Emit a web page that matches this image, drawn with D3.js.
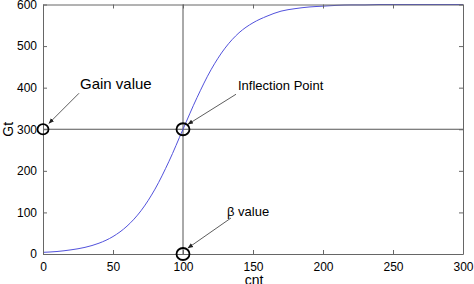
<!DOCTYPE html>
<html>
<head>
<meta charset="utf-8">
<script src="https://cdn.jsdelivr.net/npm/d3@7"></script>
<style>
  body { margin: 0; background: #fff; }
  svg { display: block; font-family: "Liberation Sans", Arial, sans-serif; }
</style>
</head>
<body>
<svg id="chart"></svg>
<script>
const width = 474;
const height = 284;

// values
const cnt = [0, 10, 20, 30, 40, 50, 60, 70, 80, 90, 100, 110, 120, 130, 140, 150,
             160, 170, 180, 190, 200, 210, 220, 230, 240, 250, 260, 270, 280, 290, 300];
const gt = [4, 6, 10, 16, 26, 42, 67, 104, 156, 223, 300, 376, 443, 495, 532, 556,
            572, 584, 590, 594, 596, 598, 599, 599, 600, 600, 600, 600, 600, 600, 600];
const xTicks = [0, 50, 100, 150, 200, 250, 300];
const yTicks = [0, 100, 200, 300, 400, 500, 600];
const guideX = 100;
const guideY = 300;
const markers = [[0, 300], [100, 300], [100, 0]];
const notes = ["Gain value", "Inflection Point", "β value"];

const margin = {top: 4.5, right: 11, bottom: 30, left: 43};
const svg = d3.select("#chart").attr("width", width).attr("height", height);

const x = d3.scaleLinear().domain([0, 300]).range([margin.left, width - margin.right]);
const y = d3.scaleLinear().domain([0, 600]).range([height - margin.bottom, margin.top]);

const axisColor = "#666";

// guide lines through the inflection point
svg.append("line")
    .attr("x1", x(guideX)).attr("x2", x(guideX))
    .attr("y1", y(0)).attr("y2", y(600))
    .attr("stroke", "#555").attr("stroke-width", 1);
svg.append("line")
    .attr("x1", x(0)).attr("x2", x(300))
    .attr("y1", y(guideY)).attr("y2", y(guideY))
    .attr("stroke", "#555").attr("stroke-width", 1);

// the curve
const line = d3.line()
    .x((d, i) => x(cnt[i]))
    .y(d => y(d))
    .curve(d3.curveMonotoneX);

svg.append("path")
    .datum(gt)
    .attr("d", line)
    .attr("fill", "none")
    .attr("stroke", "#5252dc")
    .attr("stroke-width", 1);

// axes: ticks inward, box round the plot
const drawAxis = (axis, transform, labels) => {
    const g = svg.append("g").attr("transform", transform).call(axis);
    g.select(".domain").attr("stroke", axisColor);
    g.selectAll(".tick line").attr("stroke", axisColor);
    g.selectAll("text")
        .attr("fill", "#000")
        .style("font-size", "12px")
        .style("font-family", "'Liberation Sans', Arial, sans-serif");
    if (!labels) g.selectAll("text").remove();
    return g;
};

drawAxis(d3.axisBottom(x).tickValues(xTicks).tickSizeInner(-4).tickSizeOuter(0).tickPadding(8),
    `translate(0,${y(0)})`, true);
drawAxis(d3.axisTop(x).tickValues(xTicks).tickSizeInner(-4).tickSizeOuter(0),
    `translate(0,${y(600)})`, false);
drawAxis(d3.axisLeft(y).tickValues(yTicks).tickSizeInner(-4).tickSizeOuter(0).tickPadding(6),
    `translate(${x(0)},0)`, true);
drawAxis(d3.axisRight(y).tickValues(yTicks).tickSizeInner(-4).tickSizeOuter(0),
    `translate(${x(300)},0)`, false);

// axis titles
svg.append("text")
    .attr("x", (x(0) + x(300)) / 2 + 1)
    .attr("y", height + 1)
    .attr("text-anchor", "middle")
    .style("font-size", "14px")
    .text("cnt");

svg.append("text")
    .attr("transform", `translate(13,${(y(0) + y(600)) / 2}) rotate(-90)`)
    .attr("text-anchor", "middle")
    .style("font-size", "14px")
    .text("Gt");

// arrow head
svg.append("defs").append("marker")
    .attr("id", "head")
    .attr("viewBox", "0 0 10 10")
    .attr("refX", 9).attr("refY", 5)
    .attr("markerWidth", 7).attr("markerHeight", 7)
    .attr("orient", "auto")
    .append("path")
    .attr("d", "M0,1 L10,5 L0,9 Z")
    .attr("fill", "#222");

// annotation offsets (pixels from the marked point)
const textOff = [[37, -40], [55, -39], [44, -38]];
const arrowFrom = [[36, -36], [53, -35], [48, -36]];
const arrowTo = [[6, -6], [5, -5], [5, -6]];
const fontSizes = [15, 13, 13];

markers.forEach((m, i) => {
    const px = x(m[0]);
    const py = y(m[1]);

    svg.append("ellipse")
        .attr("cx", px).attr("cy", py)
        .attr("rx", i === 0 ? 5.5 : 6.5).attr("ry", i === 0 ? 5.2 : 6)
        .attr("fill", "none")
        .attr("stroke", "#000")
        .attr("stroke-width", 1.8);

    svg.append("line")
        .attr("x1", px + arrowFrom[i][0]).attr("y1", py + arrowFrom[i][1])
        .attr("x2", px + arrowTo[i][0]).attr("y2", py + arrowTo[i][1])
        .attr("stroke", "#333")
        .attr("stroke-width", 0.8)
        .attr("marker-end", "url(#head)");

    svg.append("text")
        .attr("x", px + textOff[i][0])
        .attr("y", py + textOff[i][1])
        .style("font-size", fontSizes[i] + "px")
        .text(notes[i]);
});
</script>
</body>
</html>
